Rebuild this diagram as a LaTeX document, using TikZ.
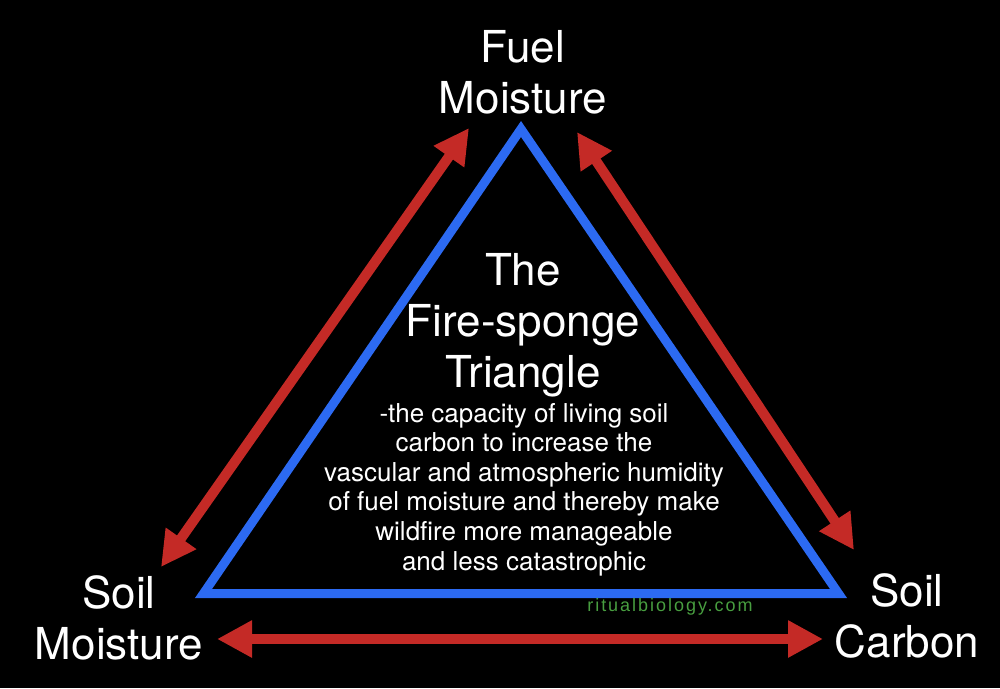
\documentclass[tikz,border=0pt]{standalone}
\usepackage{fontspec}
\setmainfont{TeX Gyre Heros}
\newfontfamily\handfont[LetterSpace=11]{Liberation Sans}
\usepackage{tikz}
\usetikzlibrary{arrows.meta}
\definecolor{sideblue}{RGB}{44,106,242}
\definecolor{arrowred}{RGB}{196,42,38}
\definecolor{tagreen}{RGB}{72,158,64}

\begin{document}
\begin{tikzpicture}[
    % GLOBAL CFG
    x=1pt, y=-1pt,
    % Styles
    corner/.style={% For the three corner labels
        text=white,
        align=center,
        inner sep=0pt,
        anchor=base,
        font=\fontsize{44}{51}\selectfont,
        },
    title/.style={% For the name in the middle
        text=white,
        align=center,
        inner sep=0pt,
        anchor=base,
        font=\fontsize{44}{51}\selectfont,
        },
    body/.style={% For the small explaining text
        text=white,
        align=center,
        inner sep=0pt,
        anchor=base,
        font=\fontsize{26}{29.6}\selectfont,
        },
    side/.style={% The blue triangle
        draw=sideblue,
        line width=9pt,
        miter limit=10,
        line join=miter,
        },
    link/.style={% Red two-headed arrows
        draw=arrowred,
        line width=10pt,
        {Triangle[length=35pt 0 0, width=35pt 0 0]}-{Triangle[length=35pt 0 0, width=35pt 0 0]},
        },
    ]

    % Background
    \fill[black] (0,0) rectangle (1000,688);
    \useasboundingbox (0,0) rectangle (1000,688);

    % Corners of the triangle
    \coordinate (top) at (521,129);
    \coordinate (bl) at (203.5,593.5);
    \coordinate (br) at (838.5,593.5);

    % Draw the triangle
    \draw [side] (top) -- (bl) -- (br) -- cycle;

    % Draw the labels (anchored on the last line)
    \node [corner] (fuel) at (523,113) {Fuel\\Moisture};
    \node [corner] (soilm) at (119,659) {Soil\\Moisture};
    \node [corner] (soilc) at (907,657) {Soil\\Carbon};

    \node [title] (name) at (523,387) {The\\Fire-sponge\\Triangle};
    \node [body] (text) at (524,570) {-the capacity of living soil\\carbon to increase the\\vascular and atmospheric humidity\\of fuel moisture and thereby make\\wildfire more manageable\\and less catastrophic};

    \node [text=tagreen, font=\handfont\fontsize{18}{18}\selectfont, anchor=base, inner sep=0pt] (tag) at (670,611) {ritualbiology.com};

    % Arrow ends
    \coordinate (l1) at (161,567);
    \coordinate (l2) at (469,128);
    \coordinate (r1) at (577,132);
    \coordinate (r2) at (854,550);
    \coordinate (b1) at (217,639);
    \coordinate (b2) at (823,639);

    % Drawing arrows
    \draw [link] (l1) -- (l2);
    \draw [link] (r1) -- (r2);
    \draw [link] (b1) -- (b2);

\end{tikzpicture}
\end{document}
